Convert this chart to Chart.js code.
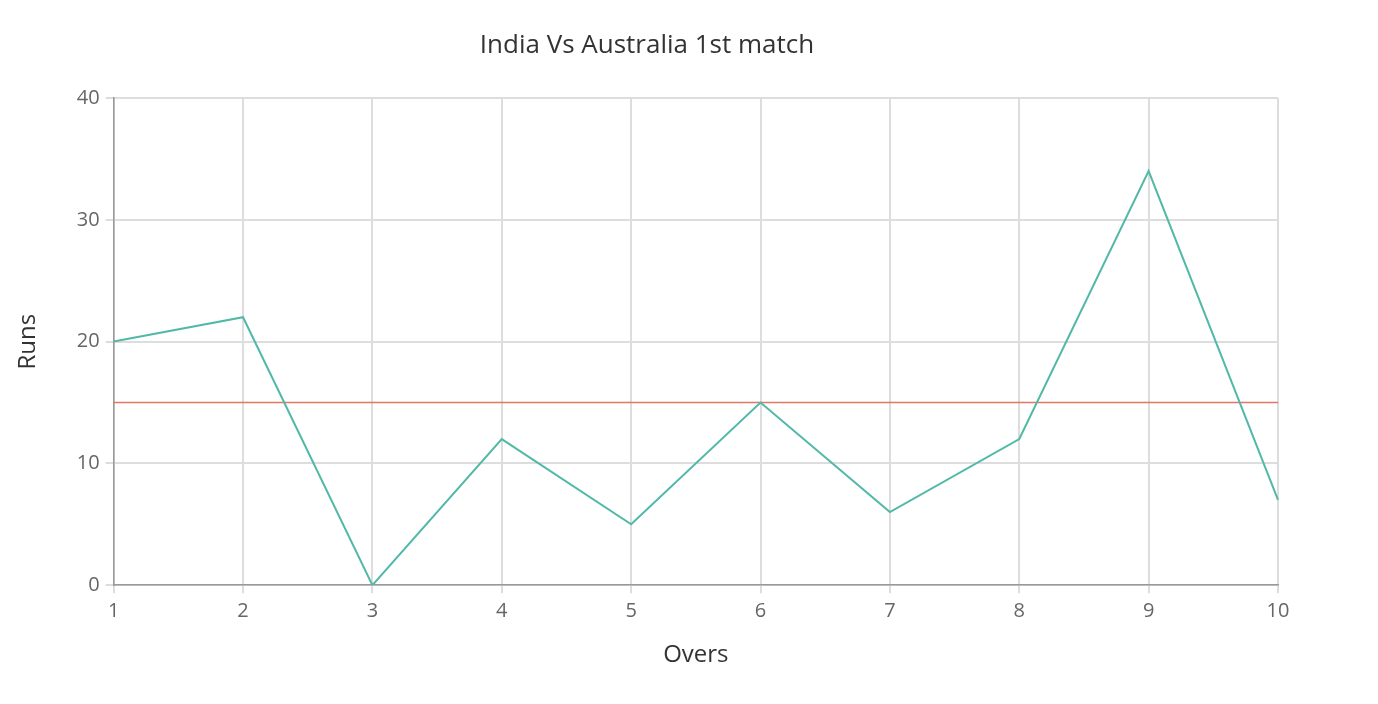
<!DOCTYPE html>
<html>
<head>
<meta charset="utf-8">
<script src="https://cdn.jsdelivr.net/npm/chart.js@4"></script>
<style>
  body { margin: 0; background: #fff; }
  #wrap { width: 1378px; height: 704px; }
</style>
</head>
<body>
<div id="wrap"><canvas id="runs" width="1378" height="704"></canvas></div>
<script>
var overs = ['1', '2', '3', '4', '5', '6', '7', '8', '9', '10'];
var runs = [20, 22, 0, 12, 5, 15, 6, 12, 34, 7];
var target = 15;
var yTicks = [0, 10, 20, 30, 40];

var font = 'Open Sans, Noto Sans, sans-serif';

// title sits left of the plot centre in the reference, so draw it ourselves
var titlePlugin = {
    id: 'leftTitle',
    afterDraw: function(chart) {
        var ctx = chart.ctx;
        ctx.save();
        ctx.font = '26px ' + font;
        ctx.fillStyle = '#333';
        ctx.textAlign = 'center';
        ctx.textBaseline = 'middle';
        ctx.fillText('India Vs Australia 1st match', 647, 46);
        ctx.restore();
    }
};

var ctx = document.getElementById('runs').getContext('2d');
new Chart(ctx, {
    type: 'line',
    data: {
        labels: overs,
        datasets: [{
            label: 'Runs',
            data: runs,
            borderColor: '#52b9a8',
            borderWidth: 2,
            pointRadius: 0,
            tension: 0,
            fill: false
        }, {
            label: 'Target',
            data: overs.map(function() { return target; }),
            borderColor: '#dd7a63',
            borderWidth: 1.3,
            pointRadius: 0,
            fill: false
        }]
    },
    options: {
        responsive: false,
        animation: false,
        layout: { padding: { top: 98, right: 100, left: 10, bottom: 30 } },
        plugins: { legend: { display: false }, tooltip: { enabled: false } },
        scales: {
            x: {
                offset: false,
                grid: { color: '#dddddd', lineWidth: 2, tickLength: 8 },
                border: { color: '#999', width: 1.5 },
                ticks: { color: '#666', font: { family: font, size: 20 }, padding: 6, maxRotation: 0 },
                title: { display: true, text: 'Overs', color: '#333', font: { family: font, size: 24 }, padding: { top: 12 } }
            },
            y: {
                min: yTicks[0],
                max: yTicks[yTicks.length - 1],
                afterBuildTicks: function(axis) {
                    axis.ticks = yTicks.map(function(v) { return { value: v }; });
                },
                grid: { color: '#dddddd', lineWidth: 2, tickLength: 8 },
                border: { color: '#999', width: 1.5 },
                ticks: { color: '#666', font: { family: font, size: 20 }, padding: 6 },
                title: { display: true, text: 'Runs', color: '#333', font: { family: font, size: 24 }, padding: { bottom: 28 } }
            }
        }
    },
    plugins: [titlePlugin]
});
</script>
</body>
</html>
